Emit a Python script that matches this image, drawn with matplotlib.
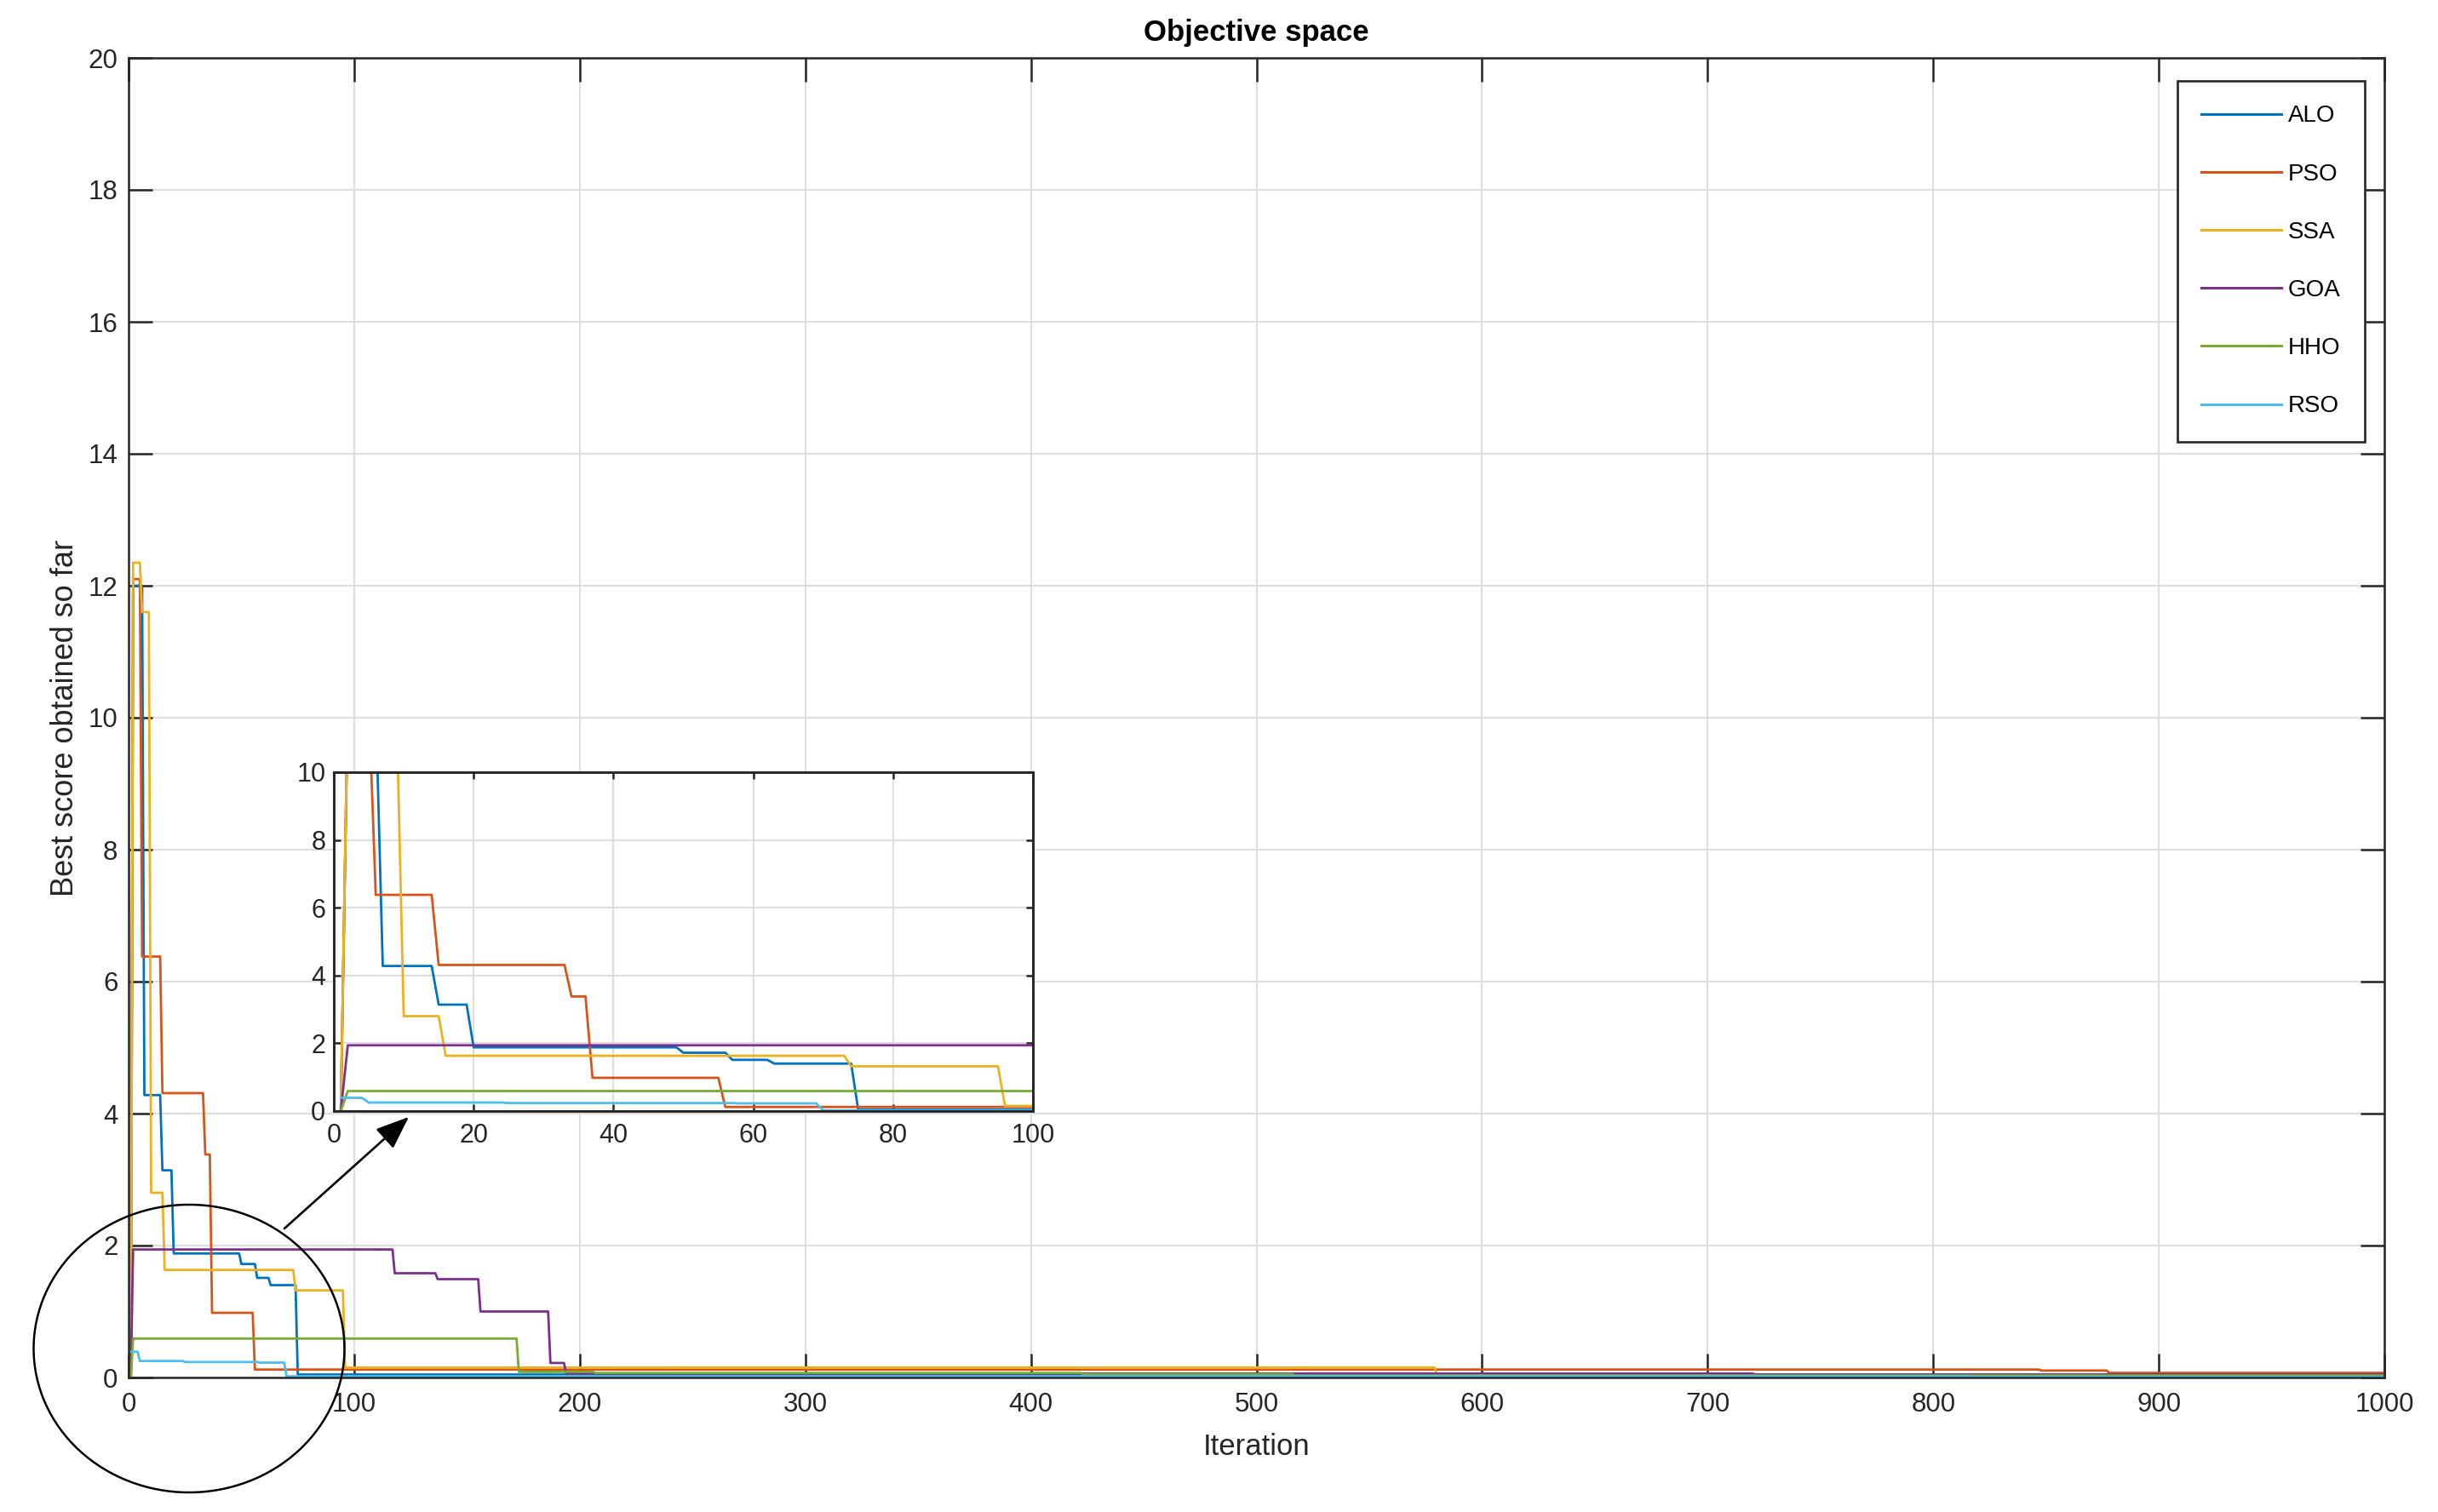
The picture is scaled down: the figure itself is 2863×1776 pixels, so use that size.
import numpy as np
import matplotlib
matplotlib.use("Agg")
import matplotlib.pyplot as plt
from matplotlib.patches import Ellipse, FancyArrowPatch

plt.rcParams['font.family'] = ['Liberation Sans', 'DejaVu Sans']

# ---------------- data (iteration, best score) vertices ----------------
labels = ["ALO", "PSO", "SSA", "GOA", "HHO", "RSO"]
colors = ["#0072BD", "#D95319", "#EDB120", "#7E2F8E", "#77AC30", "#4DBEEE"]

alo_x = [1, 2, 6, 7, 14, 15, 19, 20, 49, 50, 56, 57, 62, 63, 74, 75, 1000]
alo_y = [0, 12.0, 12.0, 4.28, 4.28, 3.14, 3.14, 1.88, 1.88, 1.72, 1.72, 1.51, 1.51, 1.40, 1.40, 0.045, 0.04]

pso_x = [1, 2, 5, 6, 14, 15, 33, 34, 36, 37, 55, 56, 847, 848, 877, 878, 1000]
pso_y = [0, 12.1, 12.1, 6.38, 6.38, 4.31, 4.31, 3.38, 3.38, 0.98, 0.98, 0.12, 0.12, 0.105, 0.105, 0.07, 0.07]

ssa_x = [1, 2, 5, 6, 9, 10, 15, 16, 73, 74, 95, 96, 579, 580, 720, 721, 1000]
ssa_y = [0, 12.35, 12.35, 11.6, 11.6, 2.8, 2.8, 1.63, 1.63, 1.32, 1.32, 0.15, 0.15, 0.035, 0.035, 0.012, 0.012]

goa_x = [1, 2, 117, 118, 136, 137, 155, 156, 186, 187, 193, 194, 720, 721, 1000]
goa_y = [0, 1.94, 1.94, 1.58, 1.58, 1.49, 1.49, 1.0, 1.0, 0.22, 0.22, 0.06, 0.06, 0.045, 0.045]

hho_x = [1, 2, 172, 173, 206, 207, 422, 423, 516, 517, 1000]
hho_y = [0, 0.59, 0.59, 0.085, 0.085, 0.068, 0.068, 0.05, 0.05, 0.03, 0.03]

rso_x = [1, 4, 5, 24, 25, 57, 58, 69, 70, 816, 817, 1000]
rso_y = [0.39, 0.39, 0.25, 0.25, 0.235, 0.235, 0.225, 0.225, 0.018, 0.018, 0.01, 0.01]

series_x = [alo_x, pso_x, ssa_x, goa_x, hho_x, rso_x]
series_y = [alo_y, pso_y, ssa_y, goa_y, hho_y, rso_y]

main_xticks = list(range(0, 1001, 100))
main_yticks = list(range(0, 21, 2))
inset_xticks = list(range(0, 101, 20))
inset_yticks = list(range(0, 11, 2))

# ---------------- figure ----------------
W, H = 2863, 1776
DPI = 100
fig = plt.figure(figsize=(W / DPI, H / DPI), dpi=DPI)
fig.patch.set_facecolor("white")

def px_rect(left, top, right, bottom):
    return [left / W, 1 - bottom / H, (right - left) / W, (bottom - top) / H]

axc = "#262626"
gridc = "#dedede"
LW = 2.0

ax = fig.add_axes(px_rect(151, 68, 2800, 1618))
for xs, ys, c, lab in zip(series_x, series_y, colors, labels):
    ax.plot(xs, ys, color=c, lw=LW, label=lab)
ax.set_xlim(0, 1000)
ax.set_ylim(0, 20)
ax.set_xticks(main_xticks)
ax.set_yticks(main_yticks)
ax.grid(True, color=gridc, lw=1.5)
ax.set_axisbelow(True)
for s in ax.spines.values():
    s.set_linewidth(1.8)
    s.set_color(axc)
ax.tick_params(axis="both", direction="in", length=20, width=1.8, color=axc,
               top=True, right=True, labelsize=22.5, labelcolor=axc)
ax.tick_params(axis="x", pad=12.5)
ax.tick_params(axis="y", pad=9)
ax.set_title("Objective space", fontsize=25, fontweight="bold", y=1.0127, pad=0)
ax.set_xlabel("Iteration", fontsize=25, color=axc)
ax.set_ylabel("Best score obtained so far", fontsize=26, color=axc)
ax.xaxis.set_label_coords(0.5, -0.042)
ax.yaxis.set_label_coords(-0.0215, 0.5)

leg = ax.legend(loc="upper right", bbox_to_anchor=(2777 / W, 1 - 95 / H),
                bbox_transform=fig.transFigure, borderaxespad=0, fontsize=20,
                handlelength=3.4, handletextpad=0.27, labelspacing=1.52,
                borderpad=1.02, fancybox=False, framealpha=1)
leg.get_frame().set_edgecolor(axc)
leg.get_frame().set_linewidth(1.9)
for line in leg.get_lines():
    line.set_linewidth(2.2)

# ---------------- inset ----------------
axi = fig.add_axes(px_rect(392, 907, 1213, 1305))
axi.set_facecolor("white")
for xs, ys, c in zip(series_x, series_y, colors):
    axi.plot(xs, ys, color=c, lw=LW)
axi.set_xlim(0, 100)
axi.set_ylim(0, 10)
axi.set_xticks(inset_xticks)
axi.set_yticks(inset_yticks)
axi.grid(True, color=gridc, lw=1.5)
axi.set_axisbelow(True)
for s in axi.spines.values():
    s.set_linewidth(2.1)
    s.set_color(axc)
axi.tick_params(axis="both", direction="in", length=5.8, width=1.8, color=axc,
                top=True, right=True, labelsize=22, labelcolor=axc)
axi.tick_params(axis="x", pad=10)
axi.tick_params(axis="y", pad=7)

# ---------------- annotation: ellipse + arrow ----------------
ell = Ellipse((222 / W, 1 - 1584 / H), 365 / W, 338 / H, transform=fig.transFigure,
              fill=False, edgecolor="black", lw=1.8, clip_on=False, zorder=10)
fig.add_artist(ell)
arr = FancyArrowPatch((334 / W, 1 - 1443 / H), (480 / W, 1 - 1312 / H),
                      transform=fig.transFigure,
                      arrowstyle="-|>,head_length=2.4,head_width=0.95",
                      mutation_scale=10, color="black", lw=1.9,
                      shrinkA=0, shrinkB=0, zorder=10)
fig.add_artist(arr)

fig.savefig("out.png", dpi=DPI, facecolor="white")
